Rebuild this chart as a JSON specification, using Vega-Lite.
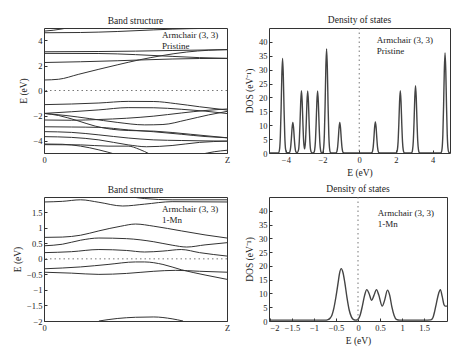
{
"$schema": "https://vega.github.io/schema/vega-lite/v6.json",
"padding": {"left": 12, "top": 14, "right": 5, "bottom": 5},
"bounds": "flush",
"columns": 2,
"spacing": {"row": 44, "column": 42},
"datasets": {
"one": [{"z": 0}],
"b1": [
{"b":"T1","x":0,"E":4.75},{"b":"T1","x":0.05,"E":4.82},{"b":"T1","x":0.1,"E":4.93},{"b":"T1","x":0.14,"E":5.05},
{"b":"T2","x":0,"E":4.62},{"b":"T2","x":0.2,"E":4.64},{"b":"T2","x":0.4,"E":4.72},{"b":"T2","x":0.6,"E":4.85},{"b":"T2","x":0.8,"E":4.95},{"b":"T2","x":1,"E":4.98},
{"b":"A","x":0,"E":3.1},{"b":"A","x":0.3,"E":3.12},{"b":"A","x":0.5,"E":3.15},{"b":"A","x":0.7,"E":3.2},{"b":"A","x":1,"E":3.27},
{"b":"B","x":0,"E":2.97},{"b":"B","x":0.3,"E":2.96},{"b":"B","x":0.5,"E":2.87},{"b":"B","x":0.7,"E":2.73},{"b":"B","x":0.85,"E":2.63},{"b":"B","x":1,"E":2.57},
{"b":"L2","x":0,"E":2.24},{"b":"L2","x":0.2,"E":2.3},{"b":"L2","x":0.4,"E":2.38},{"b":"L2","x":0.52,"E":2.44},{"b":"L2","x":0.7,"E":2.52},{"b":"L2","x":0.85,"E":2.56},{"b":"L2","x":1,"E":2.57},
{"b":"L1","x":0,"E":0.84},{"b":"L1","x":0.08,"E":0.9},{"b":"L1","x":0.19,"E":1.3},{"b":"L1","x":0.3,"E":1.7},{"b":"L1","x":0.4,"E":2.05},{"b":"L1","x":0.52,"E":2.45},{"b":"L1","x":0.64,"E":2.78},{"b":"L1","x":0.78,"E":3.08},{"b":"L1","x":0.9,"E":3.22},{"b":"L1","x":1,"E":3.27},
{"b":"V1","x":0,"E":-1.13},{"b":"V1","x":0.15,"E":-1.08},{"b":"V1","x":0.3,"E":-1.0},{"b":"V1","x":0.46,"E":-0.87},{"b":"V1","x":0.6,"E":-0.88},{"b":"V1","x":0.72,"E":-1.05},{"b":"V1","x":0.85,"E":-1.3},{"b":"V1","x":1,"E":-1.56},
{"b":"V2","x":0,"E":-1.83},{"b":"V2","x":0.15,"E":-1.7},{"b":"V2","x":0.3,"E":-1.55},{"b":"V2","x":0.46,"E":-1.37},{"b":"V2","x":0.6,"E":-1.38},{"b":"V2","x":0.75,"E":-1.5},{"b":"V2","x":0.88,"E":-1.65},{"b":"V2","x":1,"E":-1.84},
{"b":"V3","x":0,"E":-1.83},{"b":"V3","x":0.12,"E":-2.0},{"b":"V3","x":0.25,"E":-2.25},{"b":"V3","x":0.4,"E":-2.55},{"b":"V3","x":0.55,"E":-2.75},{"b":"V3","x":0.65,"E":-2.72},{"b":"V3","x":0.78,"E":-2.35},{"b":"V3","x":0.9,"E":-1.95},{"b":"V3","x":1,"E":-1.67},
{"b":"V4","x":0,"E":-1.83},{"b":"V4","x":0.08,"E":-2.0},{"b":"V4","x":0.18,"E":-2.4},{"b":"V4","x":0.28,"E":-2.85},{"b":"V4","x":0.37,"E":-3.1},{"b":"V4","x":0.46,"E":-3.2},{"b":"V4","x":0.6,"E":-3.25},{"b":"V4","x":0.8,"E":-3.5},{"b":"V4","x":1,"E":-3.78},
{"b":"V5","x":0,"E":-2.36},{"b":"V5","x":0.15,"E":-2.38},{"b":"V5","x":0.3,"E":-2.32},{"b":"V5","x":0.45,"E":-2.22},{"b":"V5","x":0.6,"E":-2.05},{"b":"V5","x":0.75,"E":-1.8},{"b":"V5","x":0.88,"E":-1.6},{"b":"V5","x":1,"E":-1.48},
{"b":"V6","x":0,"E":-2.9},{"b":"V6","x":0.15,"E":-2.92},{"b":"V6","x":0.3,"E":-2.95},{"b":"V6","x":0.46,"E":-3.15},{"b":"V6","x":0.6,"E":-3.3},{"b":"V6","x":0.75,"E":-3.5},{"b":"V6","x":0.88,"E":-3.68},{"b":"V6","x":1,"E":-3.78},
{"b":"V7","x":0,"E":-3.29},{"b":"V7","x":0.15,"E":-3.35},{"b":"V7","x":0.3,"E":-3.55},{"b":"V7","x":0.46,"E":-3.8},{"b":"V7","x":0.6,"E":-3.95},{"b":"V7","x":0.75,"E":-4.0},{"b":"V7","x":0.88,"E":-4.03},{"b":"V7","x":1,"E":-4.05},
{"b":"V8","x":0,"E":-3.69},{"b":"V8","x":0.15,"E":-3.75},{"b":"V8","x":0.3,"E":-3.95},{"b":"V8","x":0.46,"E":-4.35},{"b":"V8","x":0.56,"E":-4.5},{"b":"V8","x":0.7,"E":-4.4},{"b":"V8","x":0.85,"E":-4.15},{"b":"V8","x":1,"E":-4.05},
{"b":"V9","x":0,"E":-4.28},{"b":"V9","x":0.1,"E":-4.3},{"b":"V9","x":0.2,"E":-4.45},{"b":"V9","x":0.3,"E":-4.75},{"b":"V9","x":0.39,"E":-5.1},
{"b":"V10","x":0,"E":-4.33},{"b":"V10","x":0.2,"E":-4.35},{"b":"V10","x":0.35,"E":-4.45},{"b":"V10","x":0.46,"E":-4.45},{"b":"V10","x":0.52,"E":-4.7},{"b":"V10","x":0.58,"E":-5.1},
{"b":"V11","x":0.86,"E":-5.1},{"b":"V11","x":0.93,"E":-4.9},{"b":"V11","x":1,"E":-4.78}
],
"d1": [
{"E":-4.9,"D":0},{"E":-4.4,"D":0},{"E":-4.34,"D":1.6},{"E":-4.3,"D":6.2},{"E":-4.26,"D":15.9},{"E":-4.22,"D":28.1},{"E":-4.18,"D":34},{"E":-4.14,"D":28.1},{"E":-4.1,"D":15.9},{"E":-4.06,"D":6.2},{"E":-4.02,"D":1.6},{"E":-3.96,"D":0.1},
{"E":-3.82,"D":0.1},{"E":-3.78,"D":0.5},{"E":-3.74,"D":2.0},{"E":-3.7,"D":5.2},{"E":-3.66,"D":9.1},{"E":-3.62,"D":11},{"E":-3.58,"D":9.1},{"E":-3.54,"D":5.2},{"E":-3.5,"D":2.0},{"E":-3.46,"D":0.5},
{"E":-3.39,"D":0.1},{"E":-3.31,"D":1.1},{"E":-3.27,"D":4.1},{"E":-3.23,"D":10.5},{"E":-3.19,"D":18.5},{"E":-3.15,"D":22.4},{"E":-3.11,"D":18.5},{"E":-3.07,"D":10.5},{"E":-3.03,"D":4.2},{"E":-2.98,"D":1.5},
{"E":-2.93,"D":4.2},{"E":-2.89,"D":10.5},{"E":-2.85,"D":18.4},{"E":-2.81,"D":22.3},{"E":-2.77,"D":18.4},{"E":-2.73,"D":10.5},{"E":-2.69,"D":4.1},{"E":-2.65,"D":1.1},{"E":-2.6,"D":0.2},{"E":-2.54,"D":0.05},
{"E":-2.47,"D":0.2},{"E":-2.43,"D":1.1},{"E":-2.39,"D":4.1},{"E":-2.35,"D":10.5},{"E":-2.31,"D":18.4},{"E":-2.27,"D":22.3},{"E":-2.23,"D":18.4},{"E":-2.19,"D":10.5},{"E":-2.15,"D":4.1},{"E":-2.11,"D":1.1},{"E":-2.07,"D":0.2},{"E":-2.03,"D":0.05},
{"E":-1.98,"D":0.3},{"E":-1.94,"D":1.8},{"E":-1.9,"D":6.8},{"E":-1.86,"D":17.6},{"E":-1.82,"D":31},{"E":-1.78,"D":37.5},{"E":-1.74,"D":31},{"E":-1.7,"D":17.6},{"E":-1.66,"D":6.8},{"E":-1.62,"D":1.8},{"E":-1.58,"D":0.3},{"E":-1.5,"D":0},
{"E":-1.3,"D":0},{"E":-1.26,"D":0.1},{"E":-1.22,"D":0.5},{"E":-1.18,"D":2.0},{"E":-1.14,"D":5.2},{"E":-1.1,"D":9.1},{"E":-1.06,"D":11},{"E":-1.02,"D":9.1},{"E":-0.98,"D":5.2},{"E":-0.94,"D":2.0},{"E":-0.9,"D":0.5},{"E":-0.86,"D":0.1},{"E":-0.8,"D":0},
{"E":0.6,"D":0},{"E":0.68,"D":0.1},{"E":0.72,"D":0.5},{"E":0.76,"D":2.0},{"E":0.8,"D":5.3},{"E":0.84,"D":9.3},{"E":0.88,"D":11.2},{"E":0.92,"D":9.3},{"E":0.96,"D":5.3},{"E":1.0,"D":2.0},{"E":1.04,"D":0.5},{"E":1.08,"D":0.1},{"E":1.14,"D":0},
{"E":1.98,"D":0},{"E":2.04,"D":0.2},{"E":2.08,"D":1.1},{"E":2.12,"D":4.1},{"E":2.16,"D":10.5},{"E":2.2,"D":18.5},{"E":2.24,"D":22.4},{"E":2.28,"D":18.5},{"E":2.32,"D":10.5},{"E":2.36,"D":4.1},{"E":2.4,"D":1.1},{"E":2.44,"D":0.2},{"E":2.5,"D":0},
{"E":2.81,"D":0},{"E":2.87,"D":0.2},{"E":2.91,"D":1.2},{"E":2.95,"D":4.4},{"E":2.99,"D":11.3},{"E":3.03,"D":20.0},{"E":3.07,"D":24.2},{"E":3.11,"D":20.0},{"E":3.15,"D":11.3},{"E":3.19,"D":4.4},{"E":3.23,"D":1.2},{"E":3.27,"D":0.2},{"E":3.33,"D":0},
{"E":4.42,"D":0},{"E":4.48,"D":0.3},{"E":4.52,"D":1.7},{"E":4.56,"D":6.6},{"E":4.6,"D":16.9},{"E":4.64,"D":29.8},{"E":4.68,"D":36},{"E":4.72,"D":29.8},{"E":4.76,"D":16.9},{"E":4.8,"D":6.6},{"E":4.84,"D":1.7},{"E":4.88,"D":0.3},{"E":4.95,"D":0}
],
"b2": [
{"b":"M1","x":0,"E":1.83},{"b":"M1","x":0.1,"E":1.85},{"b":"M1","x":0.2,"E":1.9},{"b":"M1","x":0.3,"E":1.82},{"b":"M1","x":0.43,"E":1.7},{"b":"M1","x":0.55,"E":1.76},{"b":"M1","x":0.7,"E":1.84},{"b":"M1","x":1,"E":1.83},
{"b":"M2","x":0.45,"E":2.02},{"b":"M2","x":0.55,"E":1.94},{"b":"M2","x":0.7,"E":1.9},{"b":"M2","x":1,"E":1.9},
{"b":"M3","x":0,"E":0.69},{"b":"M3","x":0.1,"E":0.7},{"b":"M3","x":0.2,"E":0.76},{"b":"M3","x":0.3,"E":0.9},{"b":"M3","x":0.42,"E":1.05},{"b":"M3","x":0.5,"E":1.12},{"b":"M3","x":0.6,"E":1.05},{"b":"M3","x":0.75,"E":0.9},{"b":"M3","x":0.88,"E":0.77},{"b":"M3","x":1,"E":0.67},
{"b":"M4","x":0,"E":0.42},{"b":"M4","x":0.1,"E":0.47},{"b":"M4","x":0.2,"E":0.6},{"b":"M4","x":0.3,"E":0.67},{"b":"M4","x":0.45,"E":0.65},{"b":"M4","x":0.6,"E":0.55},{"b":"M4","x":0.7,"E":0.44},{"b":"M4","x":0.78,"E":0.38},{"b":"M4","x":0.88,"E":0.45},{"b":"M4","x":1,"E":0.52},
{"b":"M5","x":0,"E":0.2},{"b":"M5","x":0.15,"E":0.23},{"b":"M5","x":0.3,"E":0.3},{"b":"M5","x":0.45,"E":0.27},{"b":"M5","x":0.55,"E":0.22},{"b":"M5","x":0.65,"E":0.25},{"b":"M5","x":0.75,"E":0.3},{"b":"M5","x":0.85,"E":0.2},{"b":"M5","x":1,"E":0.09},
{"b":"M6","x":0,"E":-0.32},{"b":"M6","x":0.2,"E":-0.26},{"b":"M6","x":0.35,"E":-0.18},{"b":"M6","x":0.5,"E":-0.1},{"b":"M6","x":0.55,"E":-0.1},{"b":"M6","x":0.65,"E":-0.18},{"b":"M6","x":0.75,"E":-0.35},{"b":"M6","x":0.88,"E":-0.52},{"b":"M6","x":1,"E":-0.66},
{"b":"M7","x":0,"E":-0.43},{"b":"M7","x":0.15,"E":-0.46},{"b":"M7","x":0.3,"E":-0.5},{"b":"M7","x":0.45,"E":-0.47},{"b":"M7","x":0.6,"E":-0.4},{"b":"M7","x":0.72,"E":-0.37},{"b":"M7","x":0.85,"E":-0.4},{"b":"M7","x":1,"E":-0.43},
{"b":"M8","x":0.3,"E":-2.0},{"b":"M8","x":0.4,"E":-1.92},{"b":"M8","x":0.5,"E":-1.88},{"b":"M8","x":0.6,"E":-1.87},{"b":"M8","x":0.7,"E":-1.93},{"b":"M8","x":0.76,"E":-2.0}
],
"d2": [
{"E":-2.02,"D":0.3},{"E":-1.5,"D":0.3},{"E":-1.0,"D":0.3},{"E":-0.75,"D":0.3},{"E":-0.68,"D":0.5},{"E":-0.63,"D":1.1},{"E":-0.59,"D":2.2},{"E":-0.55,"D":4.5},{"E":-0.5,"D":8.8},{"E":-0.45,"D":14},{"E":-0.42,"D":17.2},{"E":-0.38,"D":19},{"E":-0.34,"D":17.5},{"E":-0.3,"D":14},{"E":-0.25,"D":8.5},{"E":-0.2,"D":4},{"E":-0.15,"D":1.5},{"E":-0.1,"D":0.5},{"E":-0.05,"D":0.3},
{"E":0,"D":0.6},{"E":0.05,"D":2.2},{"E":0.1,"D":5.5},{"E":0.15,"D":9.3},{"E":0.2,"D":11.4},{"E":0.25,"D":10},{"E":0.31,"D":7.5},{"E":0.36,"D":9.2},{"E":0.42,"D":11.4},{"E":0.47,"D":9.5},{"E":0.55,"D":5.4},{"E":0.6,"D":7.3},{"E":0.67,"D":11.2},{"E":0.72,"D":9.3},{"E":0.77,"D":5},{"E":0.82,"D":2},{"E":0.87,"D":0.6},{"E":0.95,"D":0.3},
{"E":1.2,"D":0.3},{"E":1.5,"D":0.3},{"E":1.65,"D":0.4},{"E":1.7,"D":1.2},{"E":1.74,"D":3.5},{"E":1.78,"D":6.5},{"E":1.83,"D":10},{"E":1.87,"D":11.4},{"E":1.91,"D":9},{"E":1.95,"D":6},{"E":1.98,"D":5.4},{"E":2.02,"D":5.4}
]
},
"concat": [
{
"width": 183, "height": 125, "title": "Band structure",
"layer": [
{"data": {"name": "b1"}, "mark": {"type": "line", "clip": true, "color": "#333", "strokeWidth": 1, "interpolate": "monotone"},
 "encoding": {
  "x": {"field": "x", "type": "quantitative", "scale": {"domain": [0, 1], "nice": false}, "axis": {"values": [0, 1], "tickCount": 50, "labelExpr": "datum.value == 1 ? 'Z' : '0'", "title": null, "labelFlush": false}},
  "y": {"field": "E", "type": "quantitative", "scale": {"domain": [-5, 5], "nice": false}, "axis": {"values": [-4, -2, 0, 2, 4], "tickCount": 50, "format": "~g", "title": "E (eV)"}},
  "detail": {"field": "b"}}},
{"data": {"name": "one"}, "mark": {"type": "rule", "strokeDash": [1.5, 3], "color": "#777", "strokeWidth": 1}, "encoding": {"y": {"datum": 0}}},
{"data": {"name": "one"}, "mark": {"type": "text", "align": "left", "baseline": "top", "fontSize": 9, "lineHeight": 11, "color": "#222", "text": ["Armchair (3, 3)", "Pristine"]}, "encoding": {"x": {"datum": 0.645}, "y": {"datum": 4.8}}}
]
},
{
"width": 181, "height": 125, "title": "Density of states",
"layer": [
{"data": {"name": "d1"}, "mark": {"type": "line", "clip": true, "color": "#444", "strokeWidth": 1.4, "interpolate": "monotone"},
 "encoding": {
  "x": {"field": "E", "type": "quantitative", "scale": {"domain": [-4.92, 4.95], "nice": false}, "axis": {"values": [-4, -2, 0, 2, 4], "tickCount": 50, "format": "~g", "title": "E (eV)"}},
  "y": {"field": "D", "type": "quantitative", "scale": {"domain": [0, 45], "nice": false}, "axis": {"values": [0, 5, 10, 15, 20, 25, 30, 35, 40], "tickCount": 50, "format": "~g", "title": "DOS (eV⁻¹)"}}}},
{"data": {"name": "one"}, "mark": {"type": "rule", "strokeDash": [1.5, 3], "color": "#777", "strokeWidth": 1}, "encoding": {"x": {"datum": 0}}},
{"data": {"name": "one"}, "mark": {"type": "text", "align": "left", "baseline": "top", "fontSize": 9, "lineHeight": 11, "color": "#222", "text": ["Armchair (3, 3)", "Pristine"]}, "encoding": {"x": {"datum": 0.96}, "y": {"datum": 42}}}
]
},
{
"width": 183, "height": 124, "title": "Band structure",
"layer": [
{"data": {"name": "b2"}, "mark": {"type": "line", "clip": true, "color": "#333", "strokeWidth": 1, "interpolate": "monotone"},
 "encoding": {
  "x": {"field": "x", "type": "quantitative", "scale": {"domain": [0, 1], "nice": false}, "axis": {"values": [0, 1], "tickCount": 50, "labelExpr": "datum.value == 1 ? 'Z' : '0'", "title": null, "labelFlush": false}},
  "y": {"field": "E", "type": "quantitative", "scale": {"domain": [-2, 1.99], "nice": false}, "axis": {"values": [-2, -1.5, -1, -0.5, 0, 0.5, 1, 1.5], "tickCount": 50, "format": "~g", "title": "E (eV)"}},
  "detail": {"field": "b"}}},
{"data": {"name": "one"}, "mark": {"type": "rule", "strokeDash": [1.5, 3], "color": "#777", "strokeWidth": 1}, "encoding": {"y": {"datum": 0}}},
{"data": {"name": "one"}, "mark": {"type": "text", "align": "left", "baseline": "top", "fontSize": 9, "lineHeight": 11, "color": "#222", "text": ["Armchair (3, 3)", "1-Mn"]}, "encoding": {"x": {"datum": 0.645}, "y": {"datum": 1.72}}}
]
},
{
"width": 178, "height": 124, "title": "Density of states",
"layer": [
{"data": {"name": "d2"}, "mark": {"type": "line", "clip": true, "color": "#444", "strokeWidth": 1.4, "interpolate": "monotone"},
 "encoding": {
  "x": {"field": "E", "type": "quantitative", "scale": {"domain": [-2.02, 2.02], "nice": false}, "axis": {"values": [-2, -1.5, -1, -0.5, 0, 0.5, 1, 1.5], "tickCount": 50, "format": "~g", "title": "E (eV)"}},
  "y": {"field": "D", "type": "quantitative", "scale": {"domain": [0, 45], "nice": false}, "axis": {"values": [0, 5, 10, 15, 20, 25, 30, 35, 40], "tickCount": 50, "format": "~g", "title": "DOS (eV⁻¹)"}}}},
{"data": {"name": "one"}, "mark": {"type": "rule", "strokeDash": [1.5, 3], "color": "#777", "strokeWidth": 1}, "encoding": {"x": {"datum": 0}}},
{"data": {"name": "one"}, "mark": {"type": "text", "align": "left", "baseline": "top", "fontSize": 9, "lineHeight": 11, "color": "#222", "text": ["Armchair (3, 3)", "1-Mn"]}, "encoding": {"x": {"datum": 0.45}, "y": {"datum": 40.5}}}
]
}
],
"config": {
 "font": "Liberation Serif",
 "view": {"stroke": "#333", "strokeWidth": 1},
 "axis": {"grid": false, "domain": false, "tickColor": "#333", "tickSize": -3, "labelPadding": 5, "labelFontSize": 8.5, "labelOverlap": false, "titleFontSize": 9.5, "titleFontWeight": "normal", "labelColor": "#222", "titleColor": "#222", "titlePadding": 4},
 "title": {"fontSize": 9.5, "fontWeight": "normal", "offset": 3, "color": "#222"}
}
}
